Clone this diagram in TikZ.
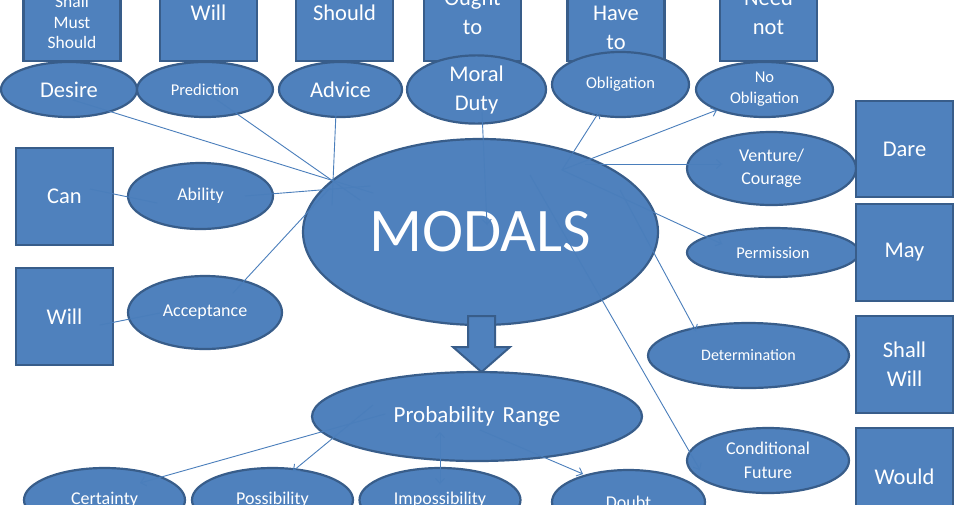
\documentclass[tikz,border=0pt]{standalone}
\usepackage{fontspec}
\setmainfont{Carlito}
\usetikzlibrary{shapes.geometric,arrows.meta}
\definecolor{fillb}{HTML}{4F81BD}
\definecolor{edgeb}{HTML}{385D8A}
\definecolor{lineb}{HTML}{4A7EBB}
\begin{document}
\begin{tikzpicture}[x=1pt,y=-1pt,
  shp/.style={fill=fillb,draw=edgeb,line width=2.2pt,text=white,inner sep=0pt,align=center},
  ell/.style={shp,ellipse},
  box/.style={shp,rectangle,minimum width=97pt},
  big/.style={font=\fontsize{22.5}{29}\selectfont},
  mid/.style={font=\fontsize{18}{23.5}\selectfont},
  sml/.style={font=\fontsize{16.5}{21}\selectfont},
  conn/.style={draw=lineb,line width=0.9pt},
  arr/.style={conn,-{Straight Barb[length=5pt,width=9pt]}},
]
\useasboundingbox (0,0) rectangle (960,504);
\clip (0,0) rectangle (960,504);
\fill[white] (0,0) rectangle (960,504);

% top boxes
\node[box,minimum height=78pt,font=\fontsize{17.5}{20.5}\selectfont] (bShall) at (72,22) {Shall\\Must\\Should};
\node[box,big,minimum height=97pt] (bWill) at (208.5,12.5) {Will};
\node[box,big,minimum height=97pt] (bShould) at (344.5,12.5) {Should};
\node[box,big,minimum height=97pt] (bOught) at (472.5,12.5) {Ought\\to};
\node[box,big,minimum height=67pt] (bHave) at (616,27.5) {Have\\to};
\node[box,big,minimum height=98pt] (bNeed) at (768.5,12) {Need\\not};

% top ellipses
\node[ell,big,minimum width=136pt,minimum height=55pt] (desire) at (69,89.5) {Desire};
\node[ell,sml,minimum width=136pt,minimum height=55pt] (predict) at (205,89.5) {Prediction};
\node[ell,big,minimum width=123pt,minimum height=55pt] (advice) at (340.5,89.5) {Advice};
\node[ell,big,minimum width=139pt,minimum height=55pt] (moral) at (476.5,89.5) {Moral\\Duty};
\node[ell,sml,minimum width=137pt,minimum height=65pt] (oblig) at (620.5,84.5) {Obligation};
\node[ell,sml,minimum width=137pt,minimum height=55pt] (noobl) at (764.5,89.5) {No\\Obligation};

% left
\node[box,big,minimum height=97pt] (bCan) at (64.5,196.5) {Can};
\node[box,big,minimum height=97pt] (bWill2) at (64.5,316.5) {Will};
\node[ell,mid,minimum width=145pt,minimum height=66pt] (ability) at (200.5,196) {Ability};
\node[ell,mid,minimum width=154pt,minimum height=73pt] (accept) at (205,312.5) {Acceptance};

% right ellipses
\node[ell,mid,minimum width=169pt,minimum height=73pt] (venture) at (771.5,168.5) {Venture/\\Courage};
\node[ell,sml,minimum width=172pt,minimum height=49pt] (permit) at (773,252.5) {Permission};
\node[ell,font=\fontsize{16}{20}\selectfont,minimum width=201pt,minimum height=65pt] (determ) at (748.5,355.5) {Determination};
\node[ell,mid,minimum width=162pt,minimum height=65pt] (condit) at (768,460.5) {Conditional\\Future};

% right boxes
\node[box,big,minimum height=96pt] (bDare) at (904.5,149) {Dare};
\node[box,big,minimum height=97pt] (bMay) at (904.5,252.5) {May};
\node[box,big,minimum height=97pt] (bShallWill) at (904.5,364.5) {Shall\\Will};
\node[box,big,minimum height=97pt] (bWould) at (904.5,476.5) {Would};

% centre
\node[ell,font=\fontsize{62}{70}\selectfont,minimum width=355pt,minimum height=186pt] (modals) at (480.5,232) {MODALS};
\draw[fill=fillb,draw=edgeb,line width=2pt,line join=miter]
  (468,316) -- (495,316) -- (495,347) -- (510,347) -- (481.5,372) -- (453,347) -- (468,347) -- cycle;
\node[ell,font=\fontsize{23}{28}\selectfont,minimum width=330pt,minimum height=89pt] (prob) at (477,416.5) {Probability\hspace{3pt} Range};

% bottom ellipses
\node[ell,mid,minimum width=161pt,minimum height=64pt] (certain) at (104.5,500) {Certainty};
\node[ell,mid,minimum width=161pt,minimum height=64pt] (possib) at (272.5,500) {Possibility};
\node[ell,mid,minimum width=161pt,minimum height=64pt] (imposs) at (440,500) {Impossibility};
\node[ell,mid,minimum width=153pt,minimum height=64pt] (doubt) at (628.5,502) {Doubt};

% connector end points
\coordinate (cDes) at (73,100);   \coordinate (hDes) at (373,193);
\coordinate (cPre) at (210,95);   \coordinate (hPre) at (360,200);
\coordinate (cAdv) at (336,112);  \coordinate (hAdv) at (332,205);
\coordinate (cAbi) at (245,196);  \coordinate (hAbi) at (370,186);
\coordinate (cAcc) at (233,293);  \coordinate (hAcc) at (330,188);
\coordinate (cCan) at (90,189);   \coordinate (aCan) at (157,203);
\coordinate (cWil) at (100,325);  \coordinate (aWil) at (160,313);
\coordinate (cMor) at (482,112);  \coordinate (hMor) at (487,225);
\coordinate (hubR) at (562,170);
\coordinate (eObl) at (599,112);
\coordinate (eNob) at (717,110);
\coordinate (sVen) at (585,164);  \coordinate (eVen) at (722,164);
\coordinate (ePer) at (722,244);
\coordinate (sDet) at (620,190);  \coordinate (eDet) at (696,331);
\coordinate (sCon) at (530,175);  \coordinate (eCon) at (700,470);
\coordinate (sCer) at (385,414);  \coordinate (eCer) at (140,483);
\coordinate (sPos) at (373,405);  \coordinate (ePos) at (293,471);
\coordinate (sImp) at (440,432);  \coordinate (eImp) at (440,484);
\coordinate (sDou) at (480,430);  \coordinate (eDou) at (583,474);

% connectors
\draw[conn] (cDes) -- (hDes);
\draw[conn] (cPre) -- (hPre);
\draw[conn] (cAdv) -- (hAdv);
\draw[conn] (cAbi) -- (hAbi);
\draw[conn] (cAcc) -- (hAcc);
\draw[conn] (cCan) -- (aCan);
\draw[conn] (cWil) -- (aWil);
\draw[arr] (cMor) -- (hMor);
\draw[arr] (hubR) -- (eObl);
\draw[arr] (hubR) -- (eNob);
\draw[arr] (sVen) -- (eVen);
\draw[arr] (hubR) -- (ePer);
\draw[arr] (sDet) -- (eDet);
\draw[arr] (sCon) -- (eCon);
\draw[arr] (sCer) -- (eCer);
\draw[arr] (sPos) -- (ePos);
\draw[conn,{Straight Barb[length=5pt,width=9pt]}-{Straight Barb[length=5pt,width=9pt]}] (sImp) -- (eImp);
\draw[arr] (sDou) -- (eDou);
\end{tikzpicture}
\end{document}
